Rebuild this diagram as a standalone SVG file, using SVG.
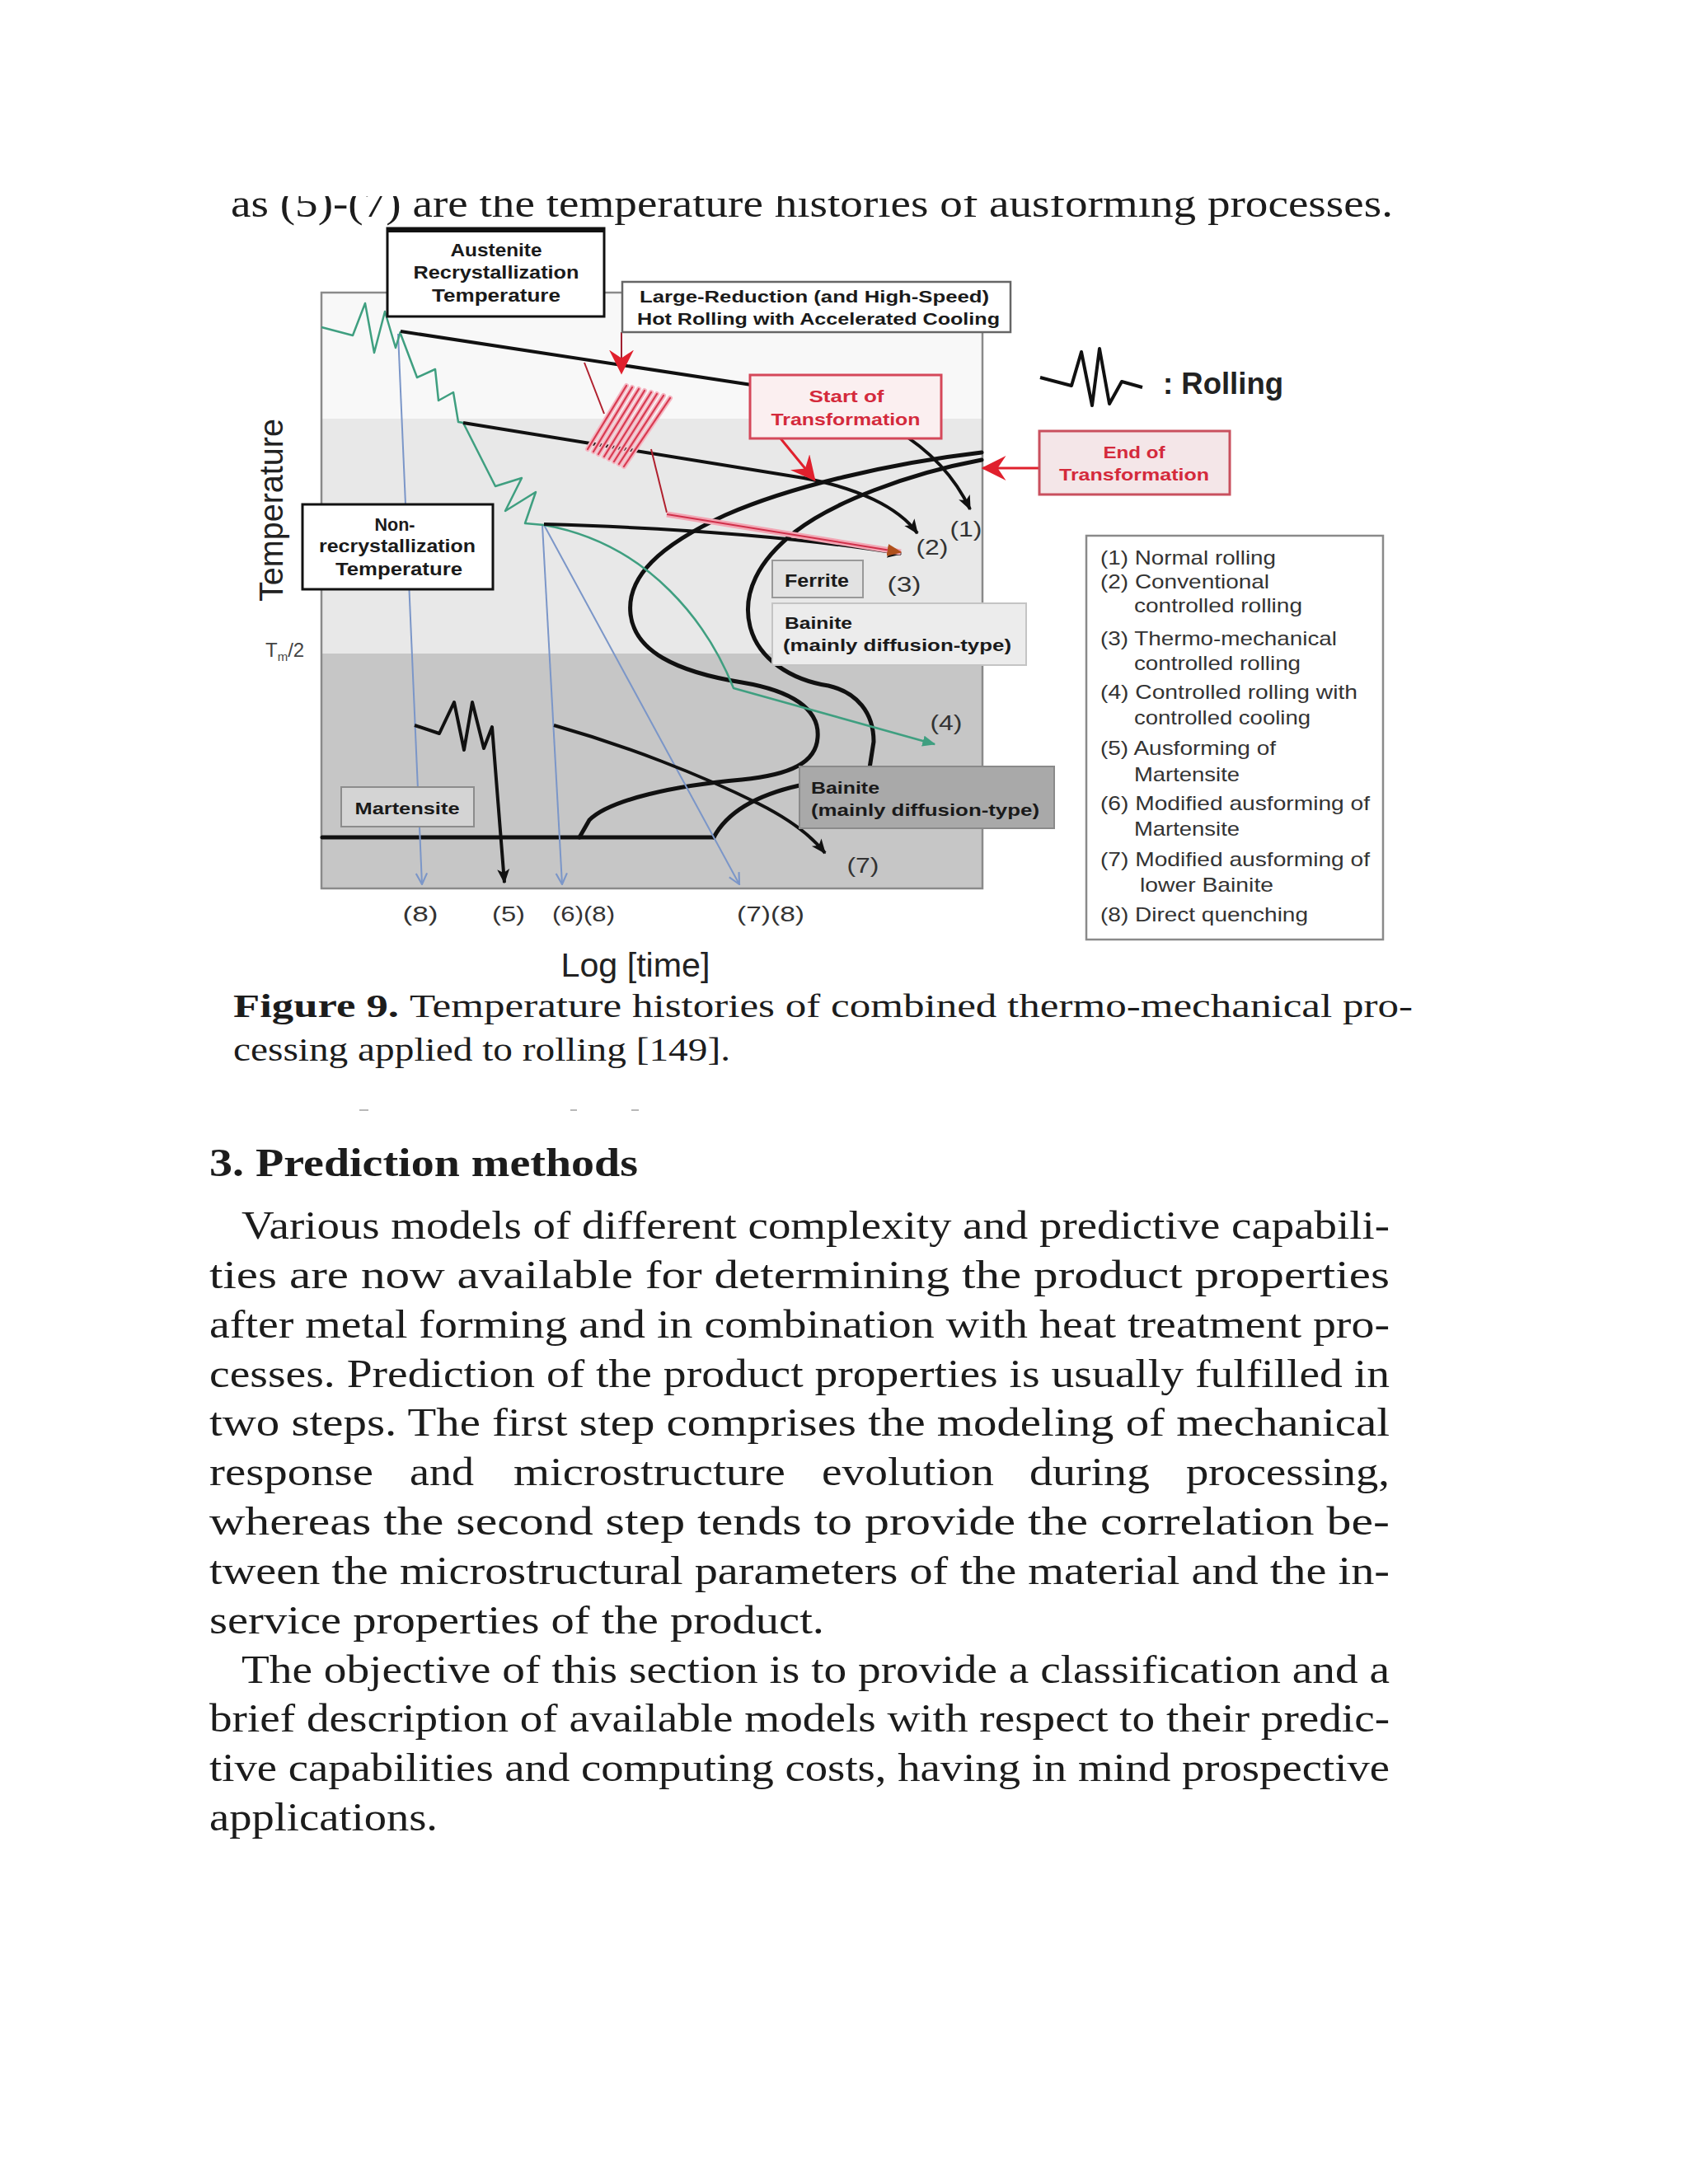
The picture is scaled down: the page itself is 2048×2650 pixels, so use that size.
<svg xmlns="http://www.w3.org/2000/svg" width="2048" height="2650" viewBox="0 0 2048 2650">
<style>
.lb{font-family:"Liberation Sans",Arial,sans-serif;font-weight:bold;fill:#1a1a1a}
.lr{font-family:"Liberation Sans",Arial,sans-serif;fill:#333}
.rt{font-family:"Liberation Sans",Arial,sans-serif;font-weight:bold;fill:#d42a3c}
.sf{font-family:"Liberation Serif","Times New Roman",serif;fill:#1c1c1c}
.sfb{font-family:"Liberation Serif","Times New Roman",serif;font-weight:bold;fill:#1c1c1c}
.blk{fill:none;stroke:#111;stroke-width:4;stroke-linejoin:round}
.cct{fill:none;stroke:#111;stroke-width:5;stroke-linecap:round}
.grn{fill:none;stroke:#3f9f80;stroke-width:2.5;stroke-linejoin:round}
.blu{fill:none;stroke:#7b96c8;stroke-width:2}
.red{fill:none;stroke:#e0202d;stroke-width:3}
.hg{stroke:#f5b6c2;stroke-width:6;stroke-linecap:round}
.hr{stroke:#d83a50;stroke-width:2.2;stroke-linecap:round}
</style>
<defs>
<marker id="ab" viewBox="0 0 12 12" refX="11" refY="6" markerWidth="18" markerHeight="18" markerUnits="userSpaceOnUse" orient="auto"><path d="M0,1 L12,6 L0,11 L3,6 z" fill="#111"/></marker>
<marker id="abl" viewBox="0 0 12 12" refX="11" refY="6" markerWidth="16" markerHeight="16" markerUnits="userSpaceOnUse" orient="auto"><path d="M1,1 L11,6 L1,11" fill="none" stroke="#7b96c8" stroke-width="1.6"/></marker>
<marker id="ag" viewBox="0 0 12 12" refX="11" refY="6" markerWidth="16" markerHeight="16" markerUnits="userSpaceOnUse" orient="auto"><path d="M0,1 L12,6 L0,11 z" fill="#3f9f80"/></marker>
<marker id="ar" viewBox="0 0 12 12" refX="11" refY="6" markerWidth="30" markerHeight="30" markerUnits="userSpaceOnUse" orient="auto"><path d="M0,0 L12,6 L0,12 L4,6 z" fill="#e0202d"/></marker>
<marker id="ao" viewBox="0 0 12 12" refX="11" refY="6" markerWidth="18" markerHeight="18" markerUnits="userSpaceOnUse" orient="auto"><path d="M0,1 L12,6 L0,11 z" fill="#b0501c"/></marker>
<clipPath id="topclip"><rect x="0" y="238" width="2048" height="80"/></clipPath>
</defs>
<rect x="0" y="0" width="2048" height="2650" fill="#ffffff"/>

<g id="top-line" clip-path="url(#topclip)">
<text class="sf" x="280" y="263" font-size="49" textLength="1410" lengthAdjust="spacingAndGlyphs">as (5)-(7) are the temperature histories of ausforming processes.</text>
</g>

<g id="plot-area">
<rect x="390" y="355" width="802" height="153" fill="#f8f8f8"/>
<rect x="390" y="508" width="802" height="285" fill="#e8e8e8"/>
<rect x="390" y="793" width="802" height="285" fill="#c6c6c6"/>
<path d="M1192 403 L1192 1078 L390 1078 L390 355 L756 355" fill="none" stroke="#8a8a8a" stroke-width="2.5"/>
</g>

<g id="axis-labels">
<text class="lr" transform="translate(343,619) rotate(-90)" x="0" y="0" font-size="40" text-anchor="middle" textLength="222" lengthAdjust="spacingAndGlyphs" style="fill:#222">Temperature</text>
<text class="lr" x="322" y="797" font-size="24" style="fill:#444">T<tspan font-size="15" dy="5">m</tspan><tspan dy="-5">/2</tspan></text>
<text class="lr" x="771" y="1185" font-size="40" text-anchor="middle" textLength="181" lengthAdjust="spacingAndGlyphs" style="fill:#222">Log [time]</text>
</g>

<g id="connectors">
<!-- CCT curves -->
<path class="cct" d="M1191 549 C1080 562 960 590 880 625 C800 662 760 700 765 745 C770 790 820 815 900 828 C960 838 995 860 992 895 C990 925 960 940 900 946 C820 953 740 970 715 995 L703 1016"/>
<path class="cct" d="M1191 558 C1100 575 1010 610 965 645 C920 680 900 720 910 760 C920 800 960 825 1005 832 C1040 840 1060 865 1060 900 L1055 932"/>
<path class="cct" d="M970 953 C930 962 885 980 866 1016"/>
<path class="cct" d="M391 1016 L866 1016"/>
<!-- blue quench lines -->
<path class="blu" d="M483 405 L512 1073" marker-end="url(#abl)"/>
<path class="blu" d="M658 637 L682 1073" marker-end="url(#abl)"/>
<path class="blu" d="M660 637 L897 1073" marker-end="url(#abl)"/>
<!-- green rolling zigzags -->
<path class="grn" d="M390 397 L428 407 L443 368 L454 428 L467 378 L480 422 L486 402"/>
<path class="grn" d="M486 405 L506 458 L528 448 L532 486 L550 476 L556 512 L562 513"/>
<path class="grn" d="M562 513 L601 590 L633 580 L613 620 L650 597 L637 635 L660 637"/>
<path class="grn" d="M660 637 C790 660 860 760 890 835 L1134 903" marker-end="url(#ag)"/>
<!-- black process lines -->
<path class="blk" d="M486 402 L925 469 C1060 490 1140 540 1177 618" marker-end="url(#ab)"/>
<path class="blk" d="M562 513 L975 580 C1040 592 1090 615 1113 647" marker-end="url(#ab)"/>
<path class="blk" d="M660 636 C800 640 960 650 1093 672" marker-end="url(#ab)"/>
<path class="blk" d="M503 880 L533 890 L551 852 L563 910 L573 852 L587 908 L597 882 L612 1071" marker-end="url(#ab)"/>
<path class="blk" d="M672 880 C760 905 850 940 920 975 C960 995 985 1015 1001 1035" marker-end="url(#ab)"/>
<!-- red large-reduction process -->
<path d="M709 440 L733 502" fill="none" stroke="#b0202e" stroke-width="2"/>
<g id="red-hatch">
<line class="hg" x1="713" y1="545" x2="760" y2="468"/>
<line class="hg" x1="720" y1="548" x2="767" y2="470"/>
<line class="hg" x1="726" y1="551" x2="775" y2="472"/>
<line class="hg" x1="733" y1="554" x2="782" y2="474"/>
<line class="hg" x1="739" y1="557" x2="790" y2="476"/>
<line class="hg" x1="745" y1="560" x2="797" y2="478"/>
<line class="hg" x1="751" y1="563" x2="805" y2="480"/>
<line class="hg" x1="757" y1="566" x2="813" y2="483"/>
<line class="hr" x1="713" y1="545" x2="760" y2="468"/>
<line class="hr" x1="720" y1="548" x2="767" y2="470"/>
<line class="hr" x1="726" y1="551" x2="775" y2="472"/>
<line class="hr" x1="733" y1="554" x2="782" y2="474"/>
<line class="hr" x1="739" y1="557" x2="790" y2="476"/>
<line class="hr" x1="745" y1="560" x2="797" y2="478"/>
<line class="hr" x1="751" y1="563" x2="805" y2="480"/>
<line class="hr" x1="757" y1="566" x2="813" y2="483"/>
</g>
<path d="M790 545 L809 622" fill="none" stroke="#b0202e" stroke-width="2"/>
<path d="M809 624 L1093 670" fill="none" stroke="#f2a6b4" stroke-width="7"/>
<path d="M809 624 L1093 670" fill="none" stroke="#d0304a" stroke-width="2" marker-end="url(#ao)"/>
<!-- red pointers -->
<path d="M754 403 L754 452" fill="none" stroke="#a02030" stroke-width="2" marker-end="url(#ar)"/>
<path class="red" d="M947 532 L988 582" marker-end="url(#ar)"/>
<path class="red" d="M1261 568 L1193 568" marker-end="url(#ar)"/>
</g>

<g id="node-austenite">
<rect x="470" y="277" width="263" height="107" fill="#ffffff" stroke="#111" stroke-width="3"/>
<line x1="470" y1="279" x2="733" y2="279" stroke="#111" stroke-width="6"/>
<text class="lb" x="602" y="311" font-size="22" text-anchor="middle" textLength="111" lengthAdjust="spacingAndGlyphs">Austenite</text>
<text class="lb" x="602" y="338" font-size="22" text-anchor="middle" textLength="201" lengthAdjust="spacingAndGlyphs">Recrystallization</text>
<text class="lb" x="602" y="366" font-size="22" text-anchor="middle" textLength="156" lengthAdjust="spacingAndGlyphs">Temperature</text>
</g>

<g id="node-large-reduction">
<rect x="755" y="342" width="471" height="61" fill="#ffffff" stroke="#666" stroke-width="2.5"/>
<text class="lb" x="988" y="367" font-size="21" text-anchor="middle" textLength="424" lengthAdjust="spacingAndGlyphs">Large-Reduction (and High-Speed)</text>
<text class="lb" x="993" y="394" font-size="21" text-anchor="middle" textLength="440" lengthAdjust="spacingAndGlyphs">Hot Rolling with Accelerated Cooling</text>
</g>

<g id="node-start-transformation">
<rect x="910" y="455" width="232" height="77" fill="#fbeff0" stroke="#d5485a" stroke-width="3"/>
<text class="rt" x="1027" y="488" font-size="21" text-anchor="middle" textLength="91" lengthAdjust="spacingAndGlyphs">Start of</text>
<text class="rt" x="1026" y="516" font-size="21" text-anchor="middle" textLength="181" lengthAdjust="spacingAndGlyphs">Transformation</text>
</g>

<g id="node-end-transformation">
<rect x="1261" y="523" width="231" height="77" fill="#f4e6e8" stroke="#c9505e" stroke-width="3"/>
<text class="rt" x="1376" y="556" font-size="21" text-anchor="middle" textLength="75" lengthAdjust="spacingAndGlyphs">End of</text>
<text class="rt" x="1376" y="583" font-size="21" text-anchor="middle" textLength="182" lengthAdjust="spacingAndGlyphs">Transformation</text>
</g>

<g id="node-rolling-key">
<path d="M1262 458 L1300 468 L1312 427 L1325 492 L1334 423 L1346 490 L1361 463 L1386 470" fill="none" stroke="#111" stroke-width="4" stroke-linejoin="round"/>
<text class="lb" x="1411" y="478" font-size="36" textLength="146" lengthAdjust="spacingAndGlyphs" style="fill:#222">: Rolling</text>
</g>

<g id="node-nonrecryst">
<rect x="367" y="612" width="231" height="103" fill="#ffffff" stroke="#111" stroke-width="3"/>
<text class="lb" x="479" y="644" font-size="22" text-anchor="middle" textLength="49" lengthAdjust="spacingAndGlyphs">Non-</text>
<text class="lb" x="482" y="670" font-size="22" text-anchor="middle" textLength="190" lengthAdjust="spacingAndGlyphs">recrystallization</text>
<text class="lb" x="484" y="698" font-size="22" text-anchor="middle" textLength="154" lengthAdjust="spacingAndGlyphs">Temperature</text>
</g>

<g id="node-ferrite">
<rect x="937" y="680" width="110" height="45" fill="#e2e2e2" stroke="#999" stroke-width="2"/>
<text class="lb" x="991" y="712" font-size="22" text-anchor="middle" textLength="78" lengthAdjust="spacingAndGlyphs">Ferrite</text>
</g>

<g id="node-bainite-upper">
<rect x="937" y="732" width="308" height="75" fill="#ececec" stroke="#c4c4c4" stroke-width="2"/>
<text class="lb" x="952" y="763" font-size="21" textLength="82" lengthAdjust="spacingAndGlyphs">Bainite</text>
<text class="lb" x="950" y="790" font-size="21" textLength="277" lengthAdjust="spacingAndGlyphs">(mainly diffusion-type)</text>
</g>

<g id="node-bainite-lower">
<rect x="970" y="930" width="309" height="75" fill="#a9a9a9" stroke="#8a8a8a" stroke-width="2"/>
<text class="lb" x="984" y="963" font-size="21" textLength="83" lengthAdjust="spacingAndGlyphs">Bainite</text>
<text class="lb" x="984" y="990" font-size="21" textLength="277" lengthAdjust="spacingAndGlyphs">(mainly diffusion-type)</text>
</g>

<g id="node-martensite">
<rect x="414" y="955" width="161" height="48" fill="#d4d4d4" stroke="#8c8c8c" stroke-width="2"/>
<text class="lb" x="494" y="988" font-size="21" text-anchor="middle" textLength="127" lengthAdjust="spacingAndGlyphs">Martensite</text>
</g>

<g id="path-labels">
<text class="lr" x="1172" y="651" font-size="26" text-anchor="middle" textLength="39" lengthAdjust="spacingAndGlyphs">(1)</text>
<text class="lr" x="1131" y="673" font-size="26" text-anchor="middle" textLength="39" lengthAdjust="spacingAndGlyphs">(2)</text>
<text class="lr" x="1097" y="718" font-size="26" text-anchor="middle" textLength="41" lengthAdjust="spacingAndGlyphs">(3)</text>
<text class="lr" x="1148" y="886" font-size="26" text-anchor="middle" textLength="39" lengthAdjust="spacingAndGlyphs">(4)</text>
<text class="lr" x="1047" y="1059" font-size="26" text-anchor="middle" textLength="39" lengthAdjust="spacingAndGlyphs">(7)</text>
<text class="lr" x="510" y="1118" font-size="26" text-anchor="middle" textLength="43" lengthAdjust="spacingAndGlyphs">(8)</text>
<text class="lr" x="617" y="1118" font-size="26" text-anchor="middle" textLength="40" lengthAdjust="spacingAndGlyphs">(5)</text>
<text class="lr" x="708" y="1118" font-size="26" text-anchor="middle" textLength="76" lengthAdjust="spacingAndGlyphs">(6)(8)</text>
<text class="lr" x="935" y="1118" font-size="26" text-anchor="middle" textLength="82" lengthAdjust="spacingAndGlyphs">(7)(8)</text>
</g>

<g id="node-legend">
<rect x="1318" y="650" width="360" height="490" fill="#ffffff" stroke="#8a8a8a" stroke-width="2.5"/>
<text class="lr" x="1335" y="685" font-size="24" textLength="213" lengthAdjust="spacingAndGlyphs">(1) Normal rolling</text>
<text class="lr" x="1335" y="714" font-size="24" textLength="205" lengthAdjust="spacingAndGlyphs">(2) Conventional</text>
<text class="lr" x="1376" y="743" font-size="24" textLength="204" lengthAdjust="spacingAndGlyphs">controlled rolling</text>
<text class="lr" x="1335" y="783" font-size="24" textLength="287" lengthAdjust="spacingAndGlyphs">(3) Thermo-mechanical</text>
<text class="lr" x="1376" y="813" font-size="24" textLength="202" lengthAdjust="spacingAndGlyphs">controlled rolling</text>
<text class="lr" x="1335" y="848" font-size="24" textLength="312" lengthAdjust="spacingAndGlyphs">(4) Controlled rolling with</text>
<text class="lr" x="1376" y="879" font-size="24" textLength="214" lengthAdjust="spacingAndGlyphs">controlled cooling</text>
<text class="lr" x="1335" y="916" font-size="24" textLength="213" lengthAdjust="spacingAndGlyphs">(5) Ausforming of</text>
<text class="lr" x="1376" y="948" font-size="24" textLength="128" lengthAdjust="spacingAndGlyphs">Martensite</text>
<text class="lr" x="1335" y="983" font-size="24" textLength="327" lengthAdjust="spacingAndGlyphs">(6) Modified ausforming of</text>
<text class="lr" x="1376" y="1014" font-size="24" textLength="128" lengthAdjust="spacingAndGlyphs">Martensite</text>
<text class="lr" x="1335" y="1051" font-size="24" textLength="327" lengthAdjust="spacingAndGlyphs">(7) Modified ausforming of</text>
<text class="lr" x="1383" y="1082" font-size="24" textLength="162" lengthAdjust="spacingAndGlyphs">lower Bainite</text>
<text class="lr" x="1335" y="1118" font-size="24" textLength="252" lengthAdjust="spacingAndGlyphs">(8) Direct quenching</text>
</g>

<g id="caption">
<text class="sfb" x="283" y="1234" font-size="41" textLength="201" lengthAdjust="spacingAndGlyphs">Figure 9.</text>
<text class="sf" x="497" y="1234" font-size="41" textLength="1217" lengthAdjust="spacingAndGlyphs">Temperature histories of combined thermo-mechanical pro-</text>
<text class="sf" x="283" y="1287" font-size="41" textLength="603" lengthAdjust="spacingAndGlyphs">cessing applied to rolling [149].</text>
</g>

<g id="marks" stroke="#b8b8b8" stroke-width="2">
<line x1="436" y1="1347" x2="447" y2="1347"/>
<line x1="692" y1="1347" x2="700" y2="1347"/>
<line x1="766" y1="1347" x2="775" y2="1347"/>
</g>

<g id="section-text">
<text class="sfb" x="254" y="1427" font-size="49" textLength="520" lengthAdjust="spacingAndGlyphs">3. Prediction methods</text>
<text class="sf" x="293" y="1503" font-size="49" textLength="1393" lengthAdjust="spacingAndGlyphs">Various models of different complexity and predictive capabili-</text>
<text class="sf" x="254" y="1563" font-size="49" textLength="1432" lengthAdjust="spacingAndGlyphs">ties are now available for determining the product properties</text>
<text class="sf" x="254" y="1623" font-size="49" textLength="1432" lengthAdjust="spacingAndGlyphs">after metal forming and in combination with heat treatment pro-</text>
<text class="sf" x="254" y="1683" font-size="49" textLength="1432" lengthAdjust="spacingAndGlyphs">cesses. Prediction of the product properties is usually fulfilled in</text>
<text class="sf" x="254" y="1742" font-size="49" textLength="1432" lengthAdjust="spacingAndGlyphs">two steps. The first step comprises the modeling of mechanical</text>
<text class="sf" y="1802" font-size="49"><tspan x="254" textLength="199" lengthAdjust="spacingAndGlyphs">response</tspan><tspan x="497" textLength="78" lengthAdjust="spacingAndGlyphs">and</tspan><tspan x="623" textLength="330" lengthAdjust="spacingAndGlyphs">microstructure</tspan><tspan x="997" textLength="209" lengthAdjust="spacingAndGlyphs">evolution</tspan><tspan x="1249" textLength="146" lengthAdjust="spacingAndGlyphs">during</tspan><tspan x="1439" textLength="247" lengthAdjust="spacingAndGlyphs">processing,</tspan></text>
<text class="sf" x="254" y="1862" font-size="49" textLength="1432" lengthAdjust="spacingAndGlyphs">whereas the second step tends to provide the correlation be-</text>
<text class="sf" x="254" y="1922" font-size="49" textLength="1432" lengthAdjust="spacingAndGlyphs">tween the microstructural parameters of the material and the in-</text>
<text class="sf" x="254" y="1982" font-size="49" textLength="746" lengthAdjust="spacingAndGlyphs">service properties of the product.</text>
<text class="sf" x="293" y="2042" font-size="49" textLength="1393" lengthAdjust="spacingAndGlyphs">The objective of this section is to provide a classification and a</text>
<text class="sf" x="254" y="2101" font-size="49" textLength="1432" lengthAdjust="spacingAndGlyphs">brief description of available models with respect to their predic-</text>
<text class="sf" x="254" y="2161" font-size="49" textLength="1432" lengthAdjust="spacingAndGlyphs">tive capabilities and computing costs, having in mind prospective</text>
<text class="sf" x="254" y="2221" font-size="49" textLength="277" lengthAdjust="spacingAndGlyphs">applications.</text>
</g>
</svg>
